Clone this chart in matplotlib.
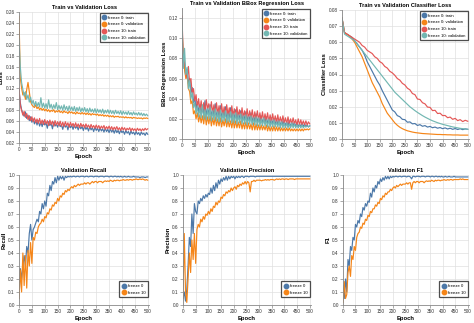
import numpy as np
import matplotlib.pyplot as plt
from matplotlib.lines import Line2D
from matplotlib.ticker import FormatStrFormatter

plt.rcParams['font.family'] = ['Liberation Sans', 'DejaVu Sans']

blue, orange, red, teal = '#4c78a8', '#f58518', '#e45756', '#72b7b2'

ep5 = np.arange(0, 505, 5)
ep10 = np.arange(0, 510, 10)

# total loss
loss_f0_train = [0.118, 0.094, 0.081, 0.074, 0.069, 0.077, 0.065, 0.071, 0.061, 0.068, 0.058,
                 0.064, 0.055, 0.062, 0.053, 0.061, 0.051, 0.058, 0.050, 0.060, 0.053,
                 0.057, 0.047, 0.059, 0.052, 0.056, 0.046, 0.058, 0.051, 0.055, 0.049,
                 0.057, 0.050, 0.053, 0.045, 0.055, 0.049, 0.053, 0.044, 0.054, 0.048,
                 0.052, 0.045, 0.053, 0.047, 0.051, 0.044, 0.052, 0.046, 0.050, 0.043,
                 0.051, 0.045, 0.049, 0.042, 0.050, 0.044, 0.048, 0.041, 0.049, 0.043,
                 0.047, 0.041, 0.048, 0.042, 0.046, 0.040, 0.047, 0.041, 0.045, 0.039,
                 0.046, 0.040, 0.044, 0.038, 0.045, 0.039, 0.043, 0.037, 0.044, 0.039,
                 0.042, 0.036, 0.043, 0.038, 0.041, 0.035, 0.042, 0.037, 0.040, 0.035,
                 0.041, 0.036, 0.039, 0.034, 0.040, 0.036, 0.038, 0.034, 0.039, 0.036]
loss_f0_val = [0.252, 0.140, 0.121, 0.108, 0.112, 0.100, 0.118, 0.131, 0.114, 0.096, 0.090,
               0.087, 0.085, 0.090, 0.083, 0.086, 0.081, 0.084, 0.080, 0.083, 0.079,
               0.082, 0.078, 0.081, 0.077, 0.080, 0.078, 0.081, 0.076, 0.079, 0.077,
               0.080, 0.076, 0.078, 0.075, 0.079, 0.076, 0.077, 0.074, 0.078, 0.075,
               0.077, 0.074, 0.076, 0.073, 0.077, 0.074, 0.075, 0.073, 0.076, 0.073,
               0.075, 0.072, 0.075, 0.072, 0.074, 0.071, 0.074, 0.072, 0.073, 0.071,
               0.073, 0.070, 0.072, 0.070, 0.072, 0.069, 0.071, 0.069, 0.071, 0.068,
               0.070, 0.068, 0.070, 0.067, 0.069, 0.068, 0.069, 0.067, 0.068, 0.067,
               0.068, 0.066, 0.068, 0.066, 0.067, 0.066, 0.067, 0.065, 0.067, 0.066,
               0.066, 0.065, 0.066, 0.065, 0.066, 0.064, 0.066, 0.065, 0.066, 0.065]
loss_f10_train = [0.121, 0.089, 0.080, 0.071, 0.078, 0.067, 0.074, 0.063, 0.070, 0.061, 0.068,
                  0.059, 0.066, 0.057, 0.064, 0.056, 0.065, 0.055, 0.062, 0.054, 0.063,
                  0.055, 0.061, 0.052, 0.062, 0.054, 0.060, 0.051, 0.061, 0.053, 0.059,
                  0.052, 0.060, 0.051, 0.058, 0.050, 0.059, 0.052, 0.057, 0.049, 0.058,
                  0.051, 0.056, 0.049, 0.057, 0.050, 0.055, 0.048, 0.056, 0.050, 0.054,
                  0.048, 0.055, 0.049, 0.053, 0.047, 0.054, 0.048, 0.052, 0.047, 0.053,
                  0.047, 0.052, 0.046, 0.051, 0.047, 0.052, 0.045, 0.050, 0.046, 0.051,
                  0.045, 0.050, 0.044, 0.049, 0.045, 0.050, 0.044, 0.048, 0.043, 0.049,
                  0.044, 0.048, 0.043, 0.047, 0.044, 0.048, 0.042, 0.047, 0.043, 0.046,
                  0.042, 0.047, 0.043, 0.046, 0.042, 0.046, 0.043, 0.047, 0.044, 0.046]
loss_f10_val = [0.210, 0.160, 0.131, 0.118, 0.106, 0.114, 0.100, 0.108, 0.095, 0.104, 0.092,
                0.098, 0.088, 0.096, 0.087, 0.094, 0.086, 0.103, 0.085, 0.093, 0.084,
                0.092, 0.083, 0.099, 0.084, 0.091, 0.082, 0.090, 0.083, 0.094, 0.081,
                0.089, 0.082, 0.088, 0.080, 0.090, 0.081, 0.087, 0.079, 0.088, 0.080,
                0.086, 0.079, 0.087, 0.078, 0.085, 0.079, 0.086, 0.077, 0.084, 0.078,
                0.085, 0.077, 0.083, 0.076, 0.084, 0.077, 0.082, 0.076, 0.083, 0.075,
                0.082, 0.076, 0.081, 0.075, 0.082, 0.074, 0.080, 0.075, 0.081, 0.074,
                0.080, 0.074, 0.079, 0.073, 0.080, 0.074, 0.078, 0.073, 0.079, 0.072,
                0.078, 0.073, 0.077, 0.072, 0.078, 0.072, 0.076, 0.071, 0.077, 0.072,
                0.075, 0.071, 0.076, 0.071, 0.075, 0.070, 0.074, 0.070, 0.073, 0.070]

# bbox regression loss
bbox_f0_train = [0.090, 0.076, 0.070, 0.062, 0.069, 0.055, 0.060, 0.046, 0.051, 0.036, 0.041,
                 0.030, 0.037, 0.026, 0.034, 0.025, 0.033, 0.024, 0.038, 0.022, 0.031,
                 0.024, 0.034, 0.021, 0.030, 0.023, 0.035, 0.020, 0.029, 0.022, 0.033,
                 0.020, 0.028, 0.021, 0.032, 0.019, 0.027, 0.020, 0.031, 0.018, 0.027,
                 0.019, 0.029, 0.018, 0.026, 0.019, 0.028, 0.017, 0.025, 0.018, 0.027,
                 0.017, 0.024, 0.018, 0.026, 0.016, 0.023, 0.017, 0.025, 0.016, 0.022,
                 0.016, 0.023, 0.015, 0.021, 0.016, 0.022, 0.015, 0.020, 0.014, 0.021,
                 0.015, 0.019, 0.014, 0.020, 0.014, 0.018, 0.013, 0.019, 0.014, 0.018,
                 0.013, 0.017, 0.013, 0.018, 0.012, 0.016, 0.013, 0.017, 0.012, 0.016,
                 0.012, 0.015, 0.012, 0.016, 0.012, 0.015, 0.012, 0.014, 0.012, 0.013]
bbox_f0_val = [0.108, 0.086, 0.070, 0.060, 0.065, 0.050, 0.047, 0.035, 0.038, 0.025, 0.028,
               0.020, 0.026, 0.017, 0.024, 0.016, 0.023, 0.015, 0.025, 0.014, 0.022,
               0.015, 0.023, 0.013, 0.021, 0.014, 0.022, 0.013, 0.020, 0.013, 0.021,
               0.012, 0.019, 0.013, 0.020, 0.012, 0.019, 0.012, 0.018, 0.011, 0.019,
               0.011, 0.018, 0.011, 0.017, 0.011, 0.018, 0.010, 0.016, 0.010, 0.017,
               0.010, 0.016, 0.010, 0.015, 0.009, 0.016, 0.009, 0.015, 0.009, 0.014,
               0.009, 0.014, 0.009, 0.013, 0.009, 0.014, 0.008, 0.013, 0.008, 0.012,
               0.008, 0.013, 0.008, 0.012, 0.008, 0.012, 0.008, 0.011, 0.008, 0.011,
               0.008, 0.011, 0.008, 0.011, 0.008, 0.010, 0.008, 0.010, 0.008, 0.010,
               0.008, 0.010, 0.008, 0.010, 0.008, 0.010, 0.009, 0.010, 0.009, 0.010]
bbox_f10_train = [0.122, 0.080, 0.075, 0.068, 0.060, 0.072, 0.055, 0.060, 0.045, 0.050, 0.038,
                  0.044, 0.031, 0.040, 0.028, 0.038, 0.027, 0.036, 0.026, 0.039, 0.030,
                  0.035, 0.025, 0.037, 0.026, 0.034, 0.024, 0.036, 0.025, 0.033, 0.023,
                  0.035, 0.024, 0.032, 0.023, 0.034, 0.024, 0.031, 0.022, 0.033, 0.023,
                  0.030, 0.022, 0.032, 0.022, 0.029, 0.021, 0.031, 0.021, 0.028, 0.020,
                  0.030, 0.020, 0.028, 0.020, 0.029, 0.019, 0.027, 0.019, 0.028, 0.019,
                  0.026, 0.018, 0.027, 0.018, 0.025, 0.018, 0.026, 0.017, 0.024, 0.017,
                  0.025, 0.017, 0.023, 0.016, 0.024, 0.016, 0.022, 0.016, 0.023, 0.016,
                  0.021, 0.015, 0.022, 0.015, 0.020, 0.015, 0.021, 0.015, 0.019, 0.014,
                  0.020, 0.014, 0.019, 0.014, 0.018, 0.014, 0.018, 0.014, 0.017, 0.015]
bbox_f10_val = [0.120, 0.070, 0.090, 0.064, 0.071, 0.050, 0.058, 0.040, 0.046, 0.031, 0.036,
                0.025, 0.033, 0.022, 0.031, 0.021, 0.034, 0.020, 0.029, 0.019, 0.030,
                0.020, 0.032, 0.018, 0.028, 0.019, 0.030, 0.018, 0.027, 0.017, 0.029,
                0.017, 0.026, 0.018, 0.028, 0.016, 0.025, 0.017, 0.027, 0.016, 0.025,
                0.016, 0.026, 0.015, 0.024, 0.016, 0.025, 0.015, 0.023, 0.015, 0.024,
                0.014, 0.022, 0.015, 0.023, 0.014, 0.021, 0.014, 0.022, 0.013, 0.021,
                0.013, 0.020, 0.013, 0.021, 0.013, 0.019, 0.012, 0.020, 0.012, 0.018,
                0.012, 0.019, 0.012, 0.017, 0.012, 0.018, 0.011, 0.017, 0.011, 0.016,
                0.011, 0.016, 0.011, 0.015, 0.011, 0.016, 0.011, 0.015, 0.011, 0.014,
                0.011, 0.014, 0.011, 0.014, 0.011, 0.013, 0.012, 0.013, 0.012, 0.013]

# classifier loss (every 10 epochs)
cls_f0_train = [0.075, 0.066, 0.065, 0.064, 0.063, 0.061, 0.059, 0.057, 0.055, 0.052, 0.048,
                0.045, 0.042, 0.039, 0.036, 0.0335, 0.030, 0.027, 0.024, 0.021, 0.018,
                0.0168, 0.0145, 0.0138, 0.0122, 0.0120, 0.0104, 0.0106, 0.0094, 0.0096, 0.0084,
                0.0089, 0.0079, 0.0083, 0.0074, 0.0078, 0.0070, 0.0074, 0.0067, 0.0071, 0.0064,
                0.0069, 0.0062, 0.0067, 0.0060, 0.0065, 0.0059, 0.0064, 0.0058, 0.0063, 0.0060]
cls_f0_val = [0.075, 0.066, 0.065, 0.064, 0.062, 0.060, 0.057, 0.054, 0.051, 0.047, 0.043,
              0.039, 0.035, 0.032, 0.029, 0.026, 0.022, 0.019, 0.016, 0.014, 0.012,
              0.010, 0.0085, 0.0073, 0.0064, 0.0057, 0.0051, 0.0047, 0.0043, 0.0040, 0.0038,
              0.0036, 0.0034, 0.0033, 0.0032, 0.0031, 0.0030, 0.0029, 0.0028, 0.0028, 0.0027,
              0.0027, 0.0026, 0.0026, 0.0025, 0.0025, 0.0025, 0.0024, 0.0024, 0.0024, 0.0024]
cls_f10_train = [0.075, 0.066, 0.065, 0.064, 0.063, 0.062, 0.061, 0.060, 0.058, 0.057, 0.055,
                 0.054, 0.053, 0.051, 0.050, 0.048, 0.047, 0.045, 0.044, 0.042, 0.041,
                 0.0395, 0.0375, 0.0365, 0.0345, 0.0335, 0.0315, 0.0305, 0.0282, 0.0275, 0.0248,
                 0.0245, 0.0225, 0.0218, 0.0198, 0.0196, 0.0176, 0.0178, 0.0158, 0.0160, 0.0145,
                 0.0146, 0.0132, 0.0136, 0.0122, 0.0128, 0.0114, 0.0120, 0.0108, 0.0116, 0.0110]
cls_f10_val = [0.075, 0.065, 0.064, 0.063, 0.062, 0.061, 0.059, 0.057, 0.055, 0.053, 0.051,
               0.049, 0.047, 0.045, 0.043, 0.041, 0.039, 0.037, 0.035, 0.033, 0.031,
               0.029, 0.0275, 0.026, 0.0245, 0.023, 0.0215, 0.020, 0.0188, 0.0176, 0.0165,
               0.0155, 0.0145, 0.0136, 0.0128, 0.012, 0.0113, 0.0107, 0.0101, 0.0096, 0.0091,
               0.0087, 0.0083, 0.0079, 0.0075, 0.0072, 0.0069, 0.0066, 0.0064, 0.0062, 0.0060]

# validation metrics
recall_f0 = [0.05, 0.28, 0.20, 0.30, 0.38, 0.30, 0.45, 0.40, 0.55, 0.62, 0.50,
             0.58, 0.60, 0.63, 0.66, 0.64, 0.72, 0.70, 0.78, 0.74, 0.80,
             0.76, 0.86, 0.84, 0.92, 0.88, 0.95, 0.93, 0.98, 0.94, 0.99,
             0.96, 0.99, 0.97, 0.99, 0.96, 0.99, 0.98, 0.99, 0.985, 0.99,
             0.985, 0.99, 0.99, 0.985, 0.99, 0.99, 0.985, 0.99, 0.99, 0.99,
             0.985, 0.99, 0.99, 0.985, 0.99, 0.99, 0.99, 0.985, 0.99, 0.99,
             0.99, 0.985, 0.99, 0.99, 0.99, 0.985, 0.99, 0.99, 0.99, 0.985,
             0.99, 0.99, 0.985, 0.99, 0.99, 0.985, 0.99, 0.985, 0.99, 0.985,
             0.985, 0.99, 0.985, 0.985, 0.99, 0.985, 0.985, 0.985, 0.99, 0.985,
             0.985, 0.985, 0.985, 0.98, 0.985, 0.985, 0.985, 0.98, 0.985, 0.985]
recall_f10 = [0.05, 0.27, 0.10, 0.40, 0.15, 0.38, 0.13, 0.42, 0.30, 0.48, 0.32,
              0.52, 0.50, 0.56, 0.55, 0.60, 0.62, 0.63, 0.66, 0.64, 0.68,
              0.67, 0.71, 0.70, 0.74, 0.73, 0.77, 0.76, 0.79, 0.78, 0.82,
              0.80, 0.84, 0.83, 0.86, 0.85, 0.88, 0.87, 0.89, 0.88, 0.90,
              0.91, 0.90, 0.92, 0.91, 0.92, 0.93, 0.92, 0.93, 0.93, 0.93,
              0.94, 0.93, 0.94, 0.94, 0.93, 0.94, 0.95, 0.94, 0.95, 0.95,
              0.94, 0.95, 0.95, 0.95, 0.94, 0.95, 0.955, 0.95, 0.955, 0.95,
              0.96, 0.955, 0.95, 0.96, 0.955, 0.96, 0.96, 0.955, 0.96, 0.96,
              0.965, 0.96, 0.96, 0.965, 0.96, 0.965, 0.965, 0.96, 0.965, 0.965,
              0.97, 0.965, 0.965, 0.97, 0.965, 0.97, 0.965, 0.96, 0.965, 0.96]
precision_f0 = [0.05, 0.10, 0.03, 0.12, 0.30, 0.52, 0.45, 0.70, 0.55, 0.78, 0.72,
                0.70, 0.80, 0.78, 0.82, 0.80, 0.84, 0.82, 0.85, 0.83, 0.86,
                0.85, 0.90, 0.86, 0.92, 0.88, 0.94, 0.90, 0.96, 0.93, 0.97,
                0.95, 0.98, 0.96, 0.99, 0.96, 0.99, 0.97, 0.99, 0.98, 0.99,
                0.97, 0.99, 0.98, 0.99, 0.98, 0.99, 0.99, 0.98, 0.99, 0.99,
                0.99, 0.985, 0.99, 0.99, 0.99, 0.99, 0.985, 0.99, 0.99, 0.99,
                0.99, 0.99, 0.99, 0.99, 0.99, 0.99, 0.99, 0.99, 0.99, 0.99,
                0.99, 0.99, 0.99, 0.99, 0.99, 0.99, 0.99, 0.99, 0.99, 0.99,
                0.99, 0.99, 0.99, 0.99, 0.99, 0.99, 0.99, 0.99, 0.99, 0.99,
                0.99, 0.99, 0.99, 0.99, 0.99, 0.99, 0.99, 0.99, 0.99, 0.99]
precision_f10 = [0.05, 0.55, 0.10, 0.02, 0.20, 0.40, 0.25, 0.50, 0.35, 0.55, 0.32,
                 0.58, 0.62, 0.60, 0.66, 0.64, 0.68, 0.66, 0.70, 0.69, 0.72,
                 0.70, 0.74, 0.72, 0.76, 0.75, 0.79, 0.77, 0.80, 0.79, 0.83,
                 0.82, 0.85, 0.84, 0.87, 0.86, 0.88, 0.87, 0.90, 0.88, 0.90,
                 0.91, 0.89, 0.92, 0.91, 0.93, 0.92, 0.94, 0.93, 0.95, 0.93,
                 0.95, 0.94, 0.87, 0.95, 0.95, 0.96, 0.95, 0.96, 0.96, 0.96,
                 0.96, 0.955, 0.96, 0.96, 0.965, 0.96, 0.965, 0.96, 0.965, 0.965,
                 0.965, 0.96, 0.965, 0.97, 0.965, 0.97, 0.965, 0.97, 0.97, 0.965,
                 0.97, 0.97, 0.965, 0.97, 0.97, 0.97, 0.97, 0.965, 0.97, 0.97,
                 0.97, 0.97, 0.97, 0.97, 0.97, 0.97, 0.97, 0.97, 0.97, 0.97]
f1_f0 = [0.15, 0.05, 0.20, 0.10, 0.35, 0.30, 0.45, 0.42, 0.52, 0.50, 0.62,
         0.60, 0.65, 0.63, 0.70, 0.68, 0.75, 0.73, 0.78, 0.76, 0.80,
         0.79, 0.86, 0.83, 0.90, 0.87, 0.92, 0.90, 0.95, 0.93, 0.97,
         0.95, 0.98, 0.96, 0.99, 0.97, 0.99, 0.97, 0.99, 0.98, 0.99,
         0.985, 0.99, 0.99, 0.985, 0.99, 0.99, 0.985, 0.99, 0.99, 0.99,
         0.985, 0.99, 0.99, 0.985, 0.97, 0.99, 0.99, 0.985, 0.99, 0.99,
         0.99, 0.985, 0.99, 0.99, 0.99, 0.985, 0.99, 0.99, 0.99, 0.985,
         0.99, 0.99, 0.985, 0.99, 0.99, 0.985, 0.99, 0.985, 0.99, 0.985,
         0.985, 0.99, 0.985, 0.985, 0.99, 0.985, 0.985, 0.985, 0.99, 0.985,
         0.985, 0.985, 0.985, 0.985, 0.985, 0.985, 0.985, 0.985, 0.985, 0.985]
f1_f10 = [0.02, 0.18, 0.05, 0.08, 0.25, 0.30, 0.22, 0.38, 0.35, 0.45, 0.42,
          0.52, 0.55, 0.56, 0.60, 0.59, 0.63, 0.62, 0.66, 0.65, 0.69,
          0.68, 0.72, 0.71, 0.74, 0.74, 0.77, 0.76, 0.79, 0.78, 0.82,
          0.81, 0.84, 0.83, 0.86, 0.85, 0.87, 0.87, 0.89, 0.88, 0.90,
          0.91, 0.90, 0.92, 0.91, 0.92, 0.93, 0.92, 0.93, 0.93, 0.93,
          0.94, 0.93, 0.94, 0.94, 0.89, 0.94, 0.95, 0.94, 0.95, 0.95,
          0.94, 0.95, 0.95, 0.95, 0.94, 0.95, 0.955, 0.95, 0.955, 0.95,
          0.96, 0.955, 0.95, 0.96, 0.955, 0.96, 0.96, 0.955, 0.96, 0.96,
          0.965, 0.96, 0.96, 0.965, 0.96, 0.965, 0.965, 0.96, 0.965, 0.965,
          0.965, 0.965, 0.965, 0.97, 0.965, 0.97, 0.965, 0.965, 0.965, 0.965]

W, H = 474, 323
fig = plt.figure(figsize=(W / 100, H / 100), dpi=100)


def make_ax(left, right, top, bottom):
    return fig.add_axes([left / W, 1 - bottom / H, (right - left) / W, (bottom - top) / H])


def style(ax, title, ylabel, ylim, yticks, fmt):
    ax.set_xlim(0, 505)
    ax.set_ylim(*ylim)
    ax.set_xticks(np.arange(0, 501, 50))
    ax.set_yticks(yticks)
    ax.yaxis.set_major_formatter(FormatStrFormatter(fmt))
    ax.grid(True, color='#e0e0e0', lw=0.5)
    ax.set_axisbelow(True)
    for s in ['top', 'right']:
        ax.spines[s].set_visible(False)
    for s in ['left', 'bottom']:
        ax.spines[s].set_color('#888888')
        ax.spines[s].set_linewidth(0.6)
    ax.tick_params(labelsize=3.4, length=2, width=0.5, color='#888888', pad=1.0, labelcolor='#333333')
    ax.set_title(title, fontsize=4.1, fontweight='bold', pad=2.5)
    ax.set_xlabel('Epoch', fontsize=4.2, fontweight='bold', labelpad=1.5)
    ax.set_ylabel(ylabel, fontsize=4.2, fontweight='bold', labelpad=1.0)


def legend(ax, names, colors, loc, anchor):
    handles = [Line2D([], [], ls='none', marker='o', ms=3.2, color=c) for c in colors]
    leg = ax.legend(handles, names, loc=loc, bbox_to_anchor=anchor, fontsize=3.1, frameon=True,
                    fancybox=False, handletextpad=0.3, borderpad=0.6, labelspacing=0.6,
                    handlelength=1.0, borderaxespad=0.3)
    leg.get_frame().set_edgecolor('#222222')
    leg.get_frame().set_linewidth(0.9)


names4 = ['freeze 0: train', 'freeze 0: validation', 'freeze 10: train', 'freeze 10: validation']
cols4 = [blue, orange, red, teal]
lw = 0.85

ax = make_ax(19, 149, 12, 143)
for y, c in zip([loss_f0_train, loss_f0_val, loss_f10_train, loss_f10_val], cols4):
    ax.plot(ep5, y, color=c, lw=lw)
style(ax, 'Train vs Validation Loss', 'Loss', (0.02, 0.26), np.arange(0.02, 0.261, 0.02), '%.2f')
legend(ax, names4, cols4, 'upper right', (1, 1))

ax = make_ax(182, 311, 8, 139)
for y, c in zip([bbox_f0_train, bbox_f0_val, bbox_f10_train, bbox_f10_val], cols4):
    ax.plot(ep5, y, color=c, lw=lw)
style(ax, 'Train vs Validation BBox Regression Loss', 'BBox Regression Loss', (0, 0.13),
      np.arange(0, 0.121, 0.02), '%.2f')
legend(ax, names4, cols4, 'upper right', (1, 1))

ax = make_ax(342, 469, 10, 139)
for y, c in zip([cls_f0_train, cls_f0_val, cls_f10_train, cls_f10_val], cols4):
    ax.plot(ep10, y, color=c, lw=lw)
style(ax, 'Train vs Validation Classifier Loss', 'Classifier Loss', (0, 0.08),
      np.arange(0, 0.081, 0.01), '%.2f')
legend(ax, names4, cols4, 'upper right', (1, 1))

names2 = ['freeze 0', 'freeze 10']
cols2 = [blue, orange]
panels = [((19, 149, 175, 305), 'Validation Recall', 'Recall', recall_f0, recall_f10),
          ((183, 311, 175, 305), 'Validation Precision', 'Precision', precision_f0, precision_f10),
          ((343, 469, 175, 305), 'Validation F1', 'F1', f1_f0, f1_f10)]
for box, title, ylabel, a, b in panels:
    ax = make_ax(*box)
    ax.plot(ep5, a, color=blue, lw=lw)
    ax.plot(ep5, b, color=orange, lw=lw)
    style(ax, title, ylabel, (0, 1), np.arange(0, 1.01, 0.1), '%.1f')
    legend(ax, names2, cols2, 'lower right', (1, 0.05))

fig.savefig('out.png', dpi=100)
